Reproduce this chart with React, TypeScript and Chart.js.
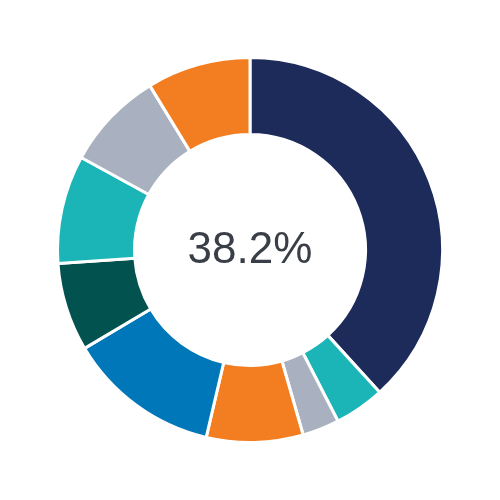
import React, { useEffect, useRef } from "react";
import { Chart, registerables } from "chart.js";

Chart.register(...registerables);

const labels = ["A", "B", "C", "D", "E", "F", "G", "H", "I"];
const values = [38.2, 4.2, 3.1, 8.1, 12.8, 7.4, 9.1, 8.3, 8.7];
const colors = ["#1c2b5a", "#1bb5b7", "#a9b1c0", "#f37e21", "#0077b8", "#02524f", "#1bb5b7", "#a9b1c0", "#f37e21"];
const centerText = "38.2%";

const centerPlugin = {
  id: "centerText",
  afterDraw(chart: any) {
    const { ctx, chartArea } = chart;
    const cx = (chartArea.left + chartArea.right) / 2;
    const cy = (chartArea.top + chartArea.bottom) / 2;
    ctx.save();
    ctx.font = "44px 'Liberation Sans', Arial, sans-serif";
    ctx.fillStyle = "#3a3e46";
    ctx.textAlign = "center";
    ctx.textBaseline = "alphabetic";
    ctx.fillText(centerText, cx, cy + 13);
    ctx.restore();
  },
};

export default function App() {
  const ref = useRef<HTMLCanvasElement>(null);
  useEffect(() => {
    const chart = new Chart(ref.current!, {
      type: "doughnut",
      data: {
        labels,
        datasets: [{ data: values, backgroundColor: colors, borderColor: "#ffffff", borderWidth: 3 }],
      },
      options: {
        animation: false,
        responsive: false,
        cutout: "60%",
        layout: { padding: 48 },
        plugins: { legend: { display: false }, tooltip: { enabled: false } },
      },
      plugins: [centerPlugin],
    });
    return () => chart.destroy();
  }, []);
  return (
    <div style={{ width: 484, height: 484 }}>
      <canvas ref={ref} width={484} height={484} />
    </div>
  );
}
